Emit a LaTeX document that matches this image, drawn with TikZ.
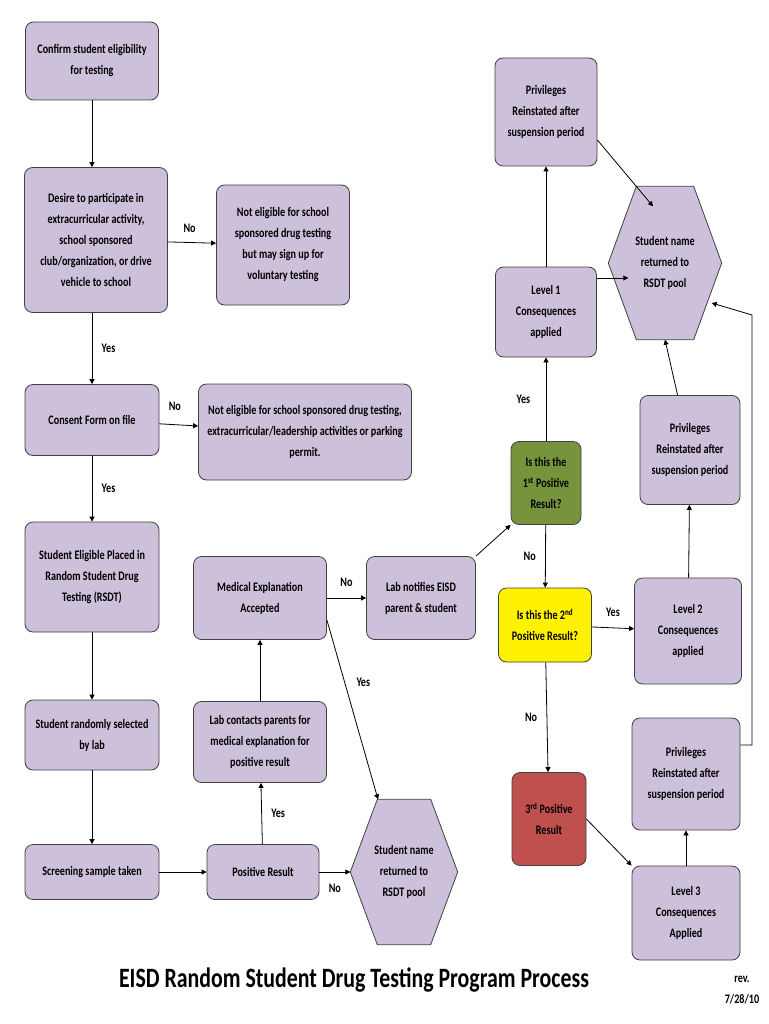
\documentclass[tikz,border=0pt]{standalone}
\usepackage{fontspec}
\setmainfont{Carlito}[FakeStretch=0.78]
\usetikzlibrary{arrows.meta}
\begin{document}
\begin{tikzpicture}[x=1pt,y=-1pt,
  box/.style={draw=black!75, line width=0.8pt, fill=lav, rounded corners=8pt, align=center,
    inner sep=2pt, font=\bfseries\fontsize{13}{21}\selectfont},
  hexbox/.style={align=center, inner sep=0pt, font=\bfseries\fontsize{13}{21}\selectfont},
  hexline/.style={draw=black!75, line width=0.8pt, fill=lav},
  arr/.style={-{Triangle[length=5pt,width=5pt]}, line width=0.8pt},
  lbl/.style={font=\bfseries\fontsize{13}{15}\selectfont}]
\definecolor{lav}{HTML}{CCC0DA}
\definecolor{olive}{HTML}{77933C}
\definecolor{redbox}{HTML}{C0504D}
\useasboundingbox (0,0) rectangle (768,1024);
\node [box, minimum width=133pt, minimum height=78pt] (confirm) at (92,61) {Confirm student eligibility\\for testing};
\node [box, minimum width=143pt, minimum height=145pt] (desire) at (96,240) {Desire to participate in\\extracurricular activity,\\school sponsored\\club/organization, or drive\\vehicle to school};
\node [box, minimum width=133pt, minimum height=120pt] (noelig) at (283,245) {Not eligible for school\\sponsored drug testing\\but may sign up for\\voluntary testing};
\node [box, minimum width=134pt, minimum height=71pt] (consent) at (92,420) {Consent Form on file};
\node [box, minimum width=213pt, minimum height=96pt] (noeligb) at (305,432) {Not eligible for school sponsored drug testing,\\extracurricular/leadership activities or parking\\permit.};
\node [box, minimum width=134pt, minimum height=110pt] (eligible) at (92,577) {Student Eligible Placed in\\Random Student Drug\\Testing (RSDT)};
\node [box, minimum width=134pt, minimum height=70pt] (selected) at (92,735) {Student randomly selected\\by lab};
\node [box, minimum width=134pt, minimum height=55pt] (screening) at (92,872) {Screening sample taken};
\node [box, minimum width=112pt, minimum height=55pt] (positive) at (263,872) {Positive Result};
\node [box, minimum width=133pt, minimum height=81pt] (labcontacts) at (260,742) {Lab contacts parents for\\medical explanation for\\positive result};
\node [box, minimum width=133pt, minimum height=83pt] (medical) at (260,598) {Medical Explanation\\Accepted};
\node [box, minimum width=109pt, minimum height=83pt] (labnotify) at (421,598) {Lab notifies EISD\\parent \& student};
\node [box, fill=olive, minimum width=70pt, minimum height=83pt] (first) at (546,483) {Is this the\\1\textsuperscript{st} Positive\\Result?};
\node [box, fill=yellow, minimum width=93pt, minimum height=74pt] (second) at (545,625) {Is this the 2\textsuperscript{nd}\\Positive Result?};
\node [box, fill=redbox, minimum width=74pt, minimum height=93pt] (third) at (549,819) {3\textsuperscript{rd} Positive\\Result};
\node [box, minimum width=101pt, minimum height=90pt] (level1) at (546,312) {Level 1\\Consequences\\applied};
\node [box, minimum width=102pt, minimum height=108pt] (priv1) at (546,112) {Privileges\\Reinstated after\\suspension period};
\node [box, minimum width=100pt, minimum height=109pt] (priv2) at (690,450) {Privileges\\Reinstated after\\suspension period};
\node [box, minimum width=107pt, minimum height=106pt] (level2) at (688,631) {Level 2\\Consequences\\applied};
\node [box, minimum width=108pt, minimum height=112pt] (priv3) at (686,774) {Privileges\\Reinstated after\\suspension period};
\node [box, minimum width=108pt, minimum height=94pt] (level3) at (686,913) {Level 3\\Consequences\\Applied};
% hexagons
\node [hexbox, minimum width=107pt, minimum height=145pt] (poolb) at (404,872) {};
\draw [hexline] (poolb.west) -- ([xshift=27pt]poolb.north west) -- ([xshift=-27pt]poolb.north east) -- (poolb.east)
  -- ([xshift=-27pt]poolb.south east) -- ([xshift=27pt]poolb.south west) -- cycle;
\node [hexbox] at (poolb) {Student name\\returned to\\RSDT pool};
\node [hexbox, minimum width=113pt, minimum height=153pt] (poolt) at (665,263) {};
\draw [hexline] (poolt.west) -- ([xshift=28pt]poolt.north west) -- ([xshift=-28pt]poolt.north east) -- (poolt.east)
  -- ([xshift=-28pt]poolt.south east) -- ([xshift=28pt]poolt.south west) -- cycle;
\node [hexbox] at (poolt) {Student name\\returned to\\RSDT pool};
\coordinate (bend) at (752,745);
% arrows
\draw [arr] (confirm.south) -- (confirm.south |- desire.north);
\draw [arr] (desire) -- node [lbl, above=6pt, pos=0.45] {No} (noelig);
\draw [arr] (consent.north |- desire.south) -- node [lbl, right=6pt] {Yes} (consent.north);
\draw [arr] (consent) -- node [lbl, above=10pt, pos=0.4] {No} (noeligb);
\draw [arr] (consent) -- node [lbl, right=6pt] {Yes} (eligible);
\draw [arr] (eligible) -- (selected);
\draw [arr] (selected) -- (screening);
\draw [arr] (screening) -- (positive);
\draw [arr] (positive) -- node [lbl, right=6pt] {Yes} (labcontacts);
\draw [arr] (labcontacts) -- (medical);
\draw [arr] (medical) -- node [lbl, above=8pt] {No} (labnotify);
\draw [arr] (positive) -- node [lbl, below=8pt] {No} (poolb.west);
\draw [arr] ([yshift=-22pt]medical.east) -- node [lbl, right=8pt, pos=0.35] {Yes} ([xshift=-26pt]poolb.north);
\draw [arr] (labnotify.north east) -- (first.south west);
\draw [arr] (first) -- node [lbl, left=6pt] {No} (second);
\draw [arr] (second) -- node [lbl, above=8pt] {Yes} (level2);
\draw [arr] (second) -- node [lbl, left=6pt] {No} (third);
\draw [arr] (third.east) -- (level3.north west);
\draw [arr] (level3) -- (priv3);
\draw [arr] (priv3.east |- bend) -- (bend) -- ++(0,-430) -- ([xshift=-10pt,yshift=-40pt]poolt.east);
\draw [arr] (level2) -- (priv2);
\draw [arr] (priv2) -- (poolt.south);
\draw [arr] (first) -- node [lbl, left=12pt] {Yes} (level1);
\draw [arr] (level1) -- (priv1);
\draw [arr] ([yshift=34pt]level1.east) -- ([xshift=20pt,yshift=-15pt]poolt.west);
\draw [arr] ([yshift=-28pt]priv1.east) -- ([xshift=-12pt,yshift=-20pt]poolt.north);
% title
\node [font=\bfseries\fontsize{28}{34}\selectfont] (title) at (354,980) {EISD Random Student Drug Testing Program Process};
\node [align=center, font=\bfseries\fontsize{13}{21}\selectfont] (rev) at (742,990) {rev.\\7/28/10};
\end{tikzpicture}
\end{document}
